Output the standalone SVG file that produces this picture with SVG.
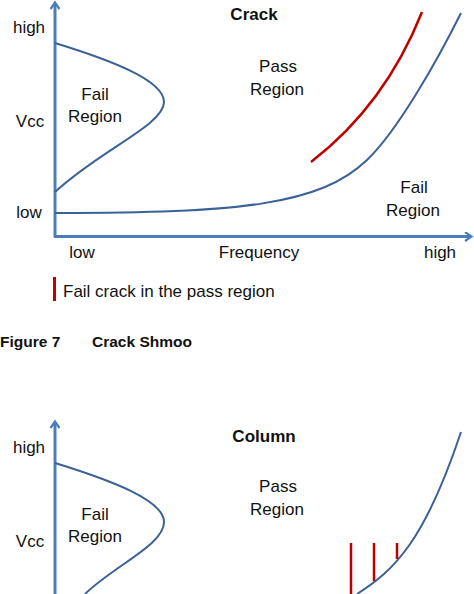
<svg xmlns="http://www.w3.org/2000/svg" width="474" height="594" viewBox="0 0 474 594">
<defs>
<marker id="ah" markerWidth="10" markerHeight="10" refX="7" refY="5" orient="auto" markerUnits="userSpaceOnUse">
<path d="M1,0.5 L7.5,5 L1,9.5" fill="none" stroke="#4a7ebb" stroke-width="2.2"/>
</marker>
</defs>
<style>
.ax{fill:none;stroke:#4a7ebb;stroke-width:3}
.cv{fill:none;stroke:#3b6196;stroke-width:2}
.rd{fill:none;stroke:#c00000;stroke-width:2.5}
.t{font-family:"Liberation Sans",Arial,sans-serif;font-size:17px;fill:#111}
.b{font-family:"Liberation Sans",Arial,sans-serif;font-size:17px;font-weight:bold;fill:#111}
.cap{font-family:"Liberation Sans",Arial,sans-serif;font-size:15.5px;font-weight:bold;fill:#111}
</style>
<rect width="474" height="594" fill="#fff"/>
<g id="chart1">
<g id="axes1">
<path class="ax" d="M55,237 L55,3" marker-end="url(#ah)"/>
<path class="ax" d="M54,236.5 L471,236.5" marker-end="url(#ah)"/>
</g>
<g id="curves1">
<path class="cv" d="M55,43 C110,60 164,80 164,102 C164,125 100,150 55,192"/>
<path class="cv" d="M55,213 C240,213 320,205 367,160 C397,131.5 436,63 461,13"/>
<path class="rd" d="M311,162 C350,132 393,85 422,12"/>
</g>
<g id="labels1">
<text class="t" x="29" y="33" text-anchor="middle">high</text>
<text class="t" x="30" y="127" text-anchor="middle">Vcc</text>
<text class="t" x="29" y="218" text-anchor="middle">low</text>
<text class="t" x="95" y="100" text-anchor="middle">Fail</text>
<text class="t" x="95" y="122" text-anchor="middle">Region</text>
<text class="b" x="254" y="20" text-anchor="middle">Crack</text>
<text class="t" x="278" y="72" text-anchor="middle">Pass</text>
<text class="t" x="277" y="95" text-anchor="middle">Region</text>
<text class="t" x="414" y="193" text-anchor="middle">Fail</text>
<text class="t" x="413" y="216" text-anchor="middle">Region</text>
<text class="t" x="82" y="258" text-anchor="middle">low</text>
<text class="t" x="259" y="258" text-anchor="middle">Frequency</text>
<text class="t" x="440" y="258" text-anchor="middle">high</text>
</g>
<g id="legend">
<line x1="54.5" y1="277" x2="54.5" y2="301" stroke="#c00000" stroke-width="3"/>
<text class="t" x="63" y="297">Fail crack in the pass region</text>
</g>
</g>
<text class="cap" x="0" y="347">Figure 7</text>
<text class="cap" x="92" y="347">Crack Shmoo</text>
<g id="chart2">
<g id="axes2">
<path class="ax" d="M55,600 L55,422" marker-end="url(#ah)"/>
</g>
<g id="curves2">
<path class="cv" d="M55,463 C110,480 164,500 164,522 C164,545 115,565 85,594"/>
<path class="cv" d="M357,594 C395,570 425,540 461,432"/>
<line x1="351" y1="543" x2="351" y2="594" stroke="#c00000" stroke-width="2.5"/>
<line x1="374" y1="543" x2="374" y2="581" stroke="#c00000" stroke-width="2.5"/>
<line x1="397" y1="543" x2="397" y2="559" stroke="#c00000" stroke-width="2.5"/>
</g>
<g id="labels2">
<text class="t" x="29" y="453" text-anchor="middle">high</text>
<text class="t" x="30" y="547" text-anchor="middle">Vcc</text>
<text class="t" x="95" y="520" text-anchor="middle">Fail</text>
<text class="t" x="95" y="542" text-anchor="middle">Region</text>
<text class="b" x="264" y="442" text-anchor="middle">Column</text>
<text class="t" x="278" y="492" text-anchor="middle">Pass</text>
<text class="t" x="277" y="515" text-anchor="middle">Region</text>
</g>
</g>
</svg>
